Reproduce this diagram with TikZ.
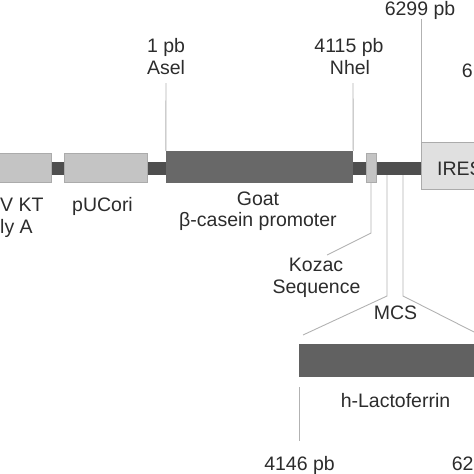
\documentclass[tikz,border=0pt]{standalone}
\usepackage{fontspec}
\setmainfont{Liberation Sans}
\usetikzlibrary{positioning,calc}
\definecolor{backbone}{HTML}{4E4E4E}
\definecolor{promo}{HTML}{686868}
\definecolor{lacto}{HTML}{616161}
\definecolor{boxfill}{HTML}{C4C4C4}
\definecolor{boxedge}{HTML}{ABABAB}
\definecolor{iresfill}{HTML}{E0E0E0}
\definecolor{leadgray}{HTML}{B2B2B2}
\definecolor{labelgray}{HTML}{2C2C2C}

\begin{document}
\begin{tikzpicture}[x=1pt, y=-1pt, font=\fontsize{19.5}{21.5}\selectfont, text=labelgray]
		\tikzset{lightbox/.style={draw=boxedge,fill=boxfill,line width=0.8pt,inner sep=0pt},
			darkbox/.style={inner sep=0pt},
			leader/.style={draw=leadgray,line width=0.9pt},
			lbl/.style={anchor=base,inner sep=0pt}}
		
		\useasboundingbox (0,0) rectangle (474,474);
		\clip (0,0) rectangle (474,474);
		
		% construct backbone and elements
		\node[darkbox,fill=backbone,minimum width=421pt,minimum height=13pt,anchor=west] (backbone) at (0,168.5) {};
		\node[lightbox,minimum width=62pt,minimum height=29pt,anchor=east] (polya) at (52,167.5) {};
		\node[lightbox,minimum width=83pt,minimum height=29pt] (ori) at (105.5,167.5) {};
		\node[darkbox,fill=promo,minimum width=187pt,minimum height=32pt] (promoter) at (259.5,167) {};
		\node[lightbox,minimum width=10pt,minimum height=29pt] (kozac) at (371,167.5) {};
		\node[lightbox,fill=iresfill,draw=boxedge,minimum width=70pt,minimum height=47pt,anchor=west] (ires) at (421,165.5) {};
		\node[lbl,anchor=base west] (ireslabel) at (437,175) {IRES};
		
		\node[darkbox,fill=lacto,minimum width=190pt,minimum height=33pt,anchor=west] (lactobar) at (299,360.5) {};
		
		% labels
		\node[lbl] (onepb) at (166,52.7) {1 pb};
		\node[lbl] (asel) at (166,74) {Asel};
		\node[lbl] (nhepb) at (349,52.7) {4115 pb};
		\node[lbl] (nhel) at (350,74) {Nhel};
		\node[lbl] (endpb) at (420,15) {6299 pb};
		\node[lbl,anchor=base west] (sixpb) at (461.7,77) {6};
		
		\node[lbl,anchor=base west] (polyatop) at (0,211.7) {V KT};
		\node[lbl,anchor=base west] (polyabot) at (0,233) {ly A};
		\node[lbl] (orilabel) at (102.5,211.7) {pUCori};
		\node[lbl] (goat) at (258,205) {Goat};
		\node[lbl] (casein) at (258,226.7) {β-casein promoter};
		\node[lbl] (kozactop) at (316,271.7) {Kozac};
		\node[lbl] (kozacbot) at (316.5,293.3) {Sequence};
		\node[lbl] (mcs) at (395.5,319) {MCS};
		\node[lbl] (lactolabel) at (395.5,407) {h-Lactoferrin};
		\node[lbl] (startpb) at (299.5,470) {4146 pb};
		\node[lbl,anchor=base west] (stoppb) at (451.7,470) {62};
		
		% leader lines
		\coordinate (aseltop) at (166,83);
		\coordinate (nheltop) at (353,83);
		\coordinate (endtop) at (421,19);
		\coordinate (kozbend) at (371,233);
		\coordinate (kozend) at (327,255);
		\coordinate (mcsleft) at (387,296);
		\coordinate (mcsright) at (403,296);
		\coordinate (mcsleftend) at (303,335);
		\coordinate (mcsrightend) at (476,333);
		\coordinate (starttop) at (299,387);
		\coordinate (startbot) at (299,441);
		
		\draw[leader] (promoter.north west) -- (aseltop);
		\draw[leader] (promoter.north east) -- (nheltop);
		\draw[leader] (ires.north west) -- (endtop);
		\draw[leader] (kozac.south) -- (kozbend) -- (kozend);
		\draw[leader] (backbone.south -| mcsleft) -- (mcsleft) -- (mcsleftend);
		\draw[leader] (backbone.south -| mcsright) -- (mcsright) -- (mcsrightend);
		\draw[leader] (starttop) -- (startbot);
	\end{tikzpicture}
\end{document}
